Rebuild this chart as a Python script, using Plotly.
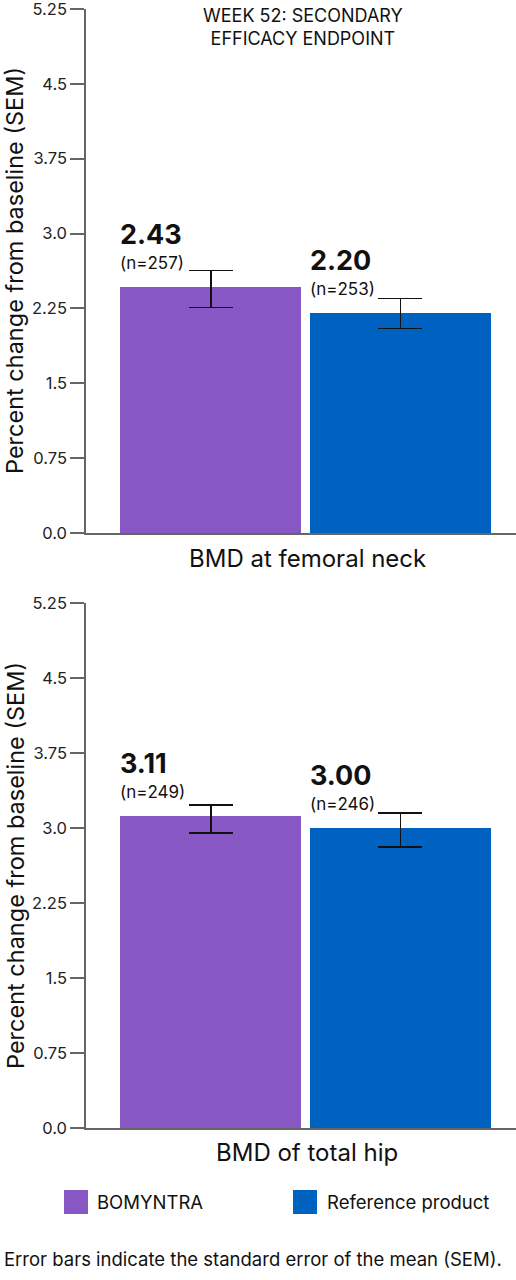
import plotly.graph_objects as go

# ---- data ----
groups = ["BOMYNTRA", "Reference product"]
colors = ["#8757C3", "#0062C0"]
panels = ["BMD at femoral neck", "BMD of total hip"]

neck_values = [2.46, 2.20]
neck_upper = [2.63, 2.35]
neck_lower = [2.26, 2.05]
neck_labels = ["2.43", "2.20"]
neck_n = [257, 253]

hip_values = [3.12, 3.00]
hip_upper = [3.23, 3.15]
hip_lower = [2.95, 2.81]
hip_labels = ["3.11", "3.00"]
hip_n = [249, 246]

tick_vals = [0, 0.75, 1.5, 2.25, 3.0, 3.75, 4.5, 5.25]
tick_text = ["0.0", "0.75", "1.5", "2.25", "3.0", "3.75", "4.5", "5.25"]

title_text = "WEEK 52: SECONDARY<br>EFFICACY ENDPOINT"
y_title = "Percent change from baseline (SEM)"
footnote = "Error bars indicate the standard error of the mean (SEM)."

# ---- layout constants ----
W, H = 516, 1280
FONT = "Inter"
TXT = "#111111"
AX = "#666666"
x_pos = [0, 1]
bar_w = 0.954
x_range = [-0.658, 1.609]

def py(px):
    return 1 - px / H

def pxx(px):
    return px / W

fig = go.Figure()

panel_data = [
    (neck_values, neck_upper, neck_lower, neck_labels, neck_n),
    (hip_values, hip_upper, hip_lower, hip_labels, hip_n),
]

annotations = []
for p, (vals, up, lo, labs, ns) in enumerate(panel_data):
    xa = "x" if p == 0 else "x2"
    ya = "y" if p == 0 else "y2"
    for i in range(2):
        fig.add_trace(go.Bar(
            x=[x_pos[i]], y=[vals[i]], width=bar_w,
            marker=dict(color=colors[i], line=dict(color=colors[i], width=0)),
            name=groups[i], showlegend=False,
            error_y=dict(type="data", symmetric=False,
                         array=[up[i] - vals[i]], arrayminus=[vals[i] - lo[i]],
                         color="#111111", thickness=1.6, width=22),
            xaxis=xa, yaxis=ya, hoverinfo="skip",
        ))
        annotations.append(dict(
            x=x_pos[i] - bar_w / 2, y=vals[i] + 0.53, xref=xa, yref=ya,
            text="<b>%s</b>" % labs[i], showarrow=False, xanchor="left", yanchor="middle",
            font=dict(family=FONT, size=27, color=TXT), xshift=-2,
        ))
        annotations.append(dict(
            x=x_pos[i] - bar_w / 2, y=vals[i] + 0.245, xref=xa, yref=ya,
            text="(n=%d)" % ns[i], showarrow=False, xanchor="left", yanchor="middle",
            font=dict(family=FONT, size=17, color=TXT), xshift=-2,
        ))

axis_common = dict(showgrid=False, zeroline=False, showline=True, linecolor=AX, linewidth=1.5,
                   automargin=False)
yaxis_common = dict(range=[0, 5.25], tickvals=tick_vals, ticktext=tick_text,
                    ticks="outside", ticklen=14, tickcolor=AX, tickwidth=1.5,
                    ticklabeloverflow="allow",
                    tickfont=dict(family=FONT, size=16.5, color="#222222"))

fig.update_layout(
    width=W, height=H, margin=dict(l=0, r=0, t=0, b=0, autoexpand=False),
    paper_bgcolor="white", plot_bgcolor="white",
    showlegend=False, bargap=0,
    font=dict(family=FONT, color=TXT),
    xaxis=dict(domain=[pxx(86), 1], range=x_range, showticklabels=False, ticks="",
               anchor="y", **axis_common),
    yaxis=dict(domain=[py(533), py(9)], anchor="x", **yaxis_common, **axis_common),
    xaxis2=dict(domain=[pxx(86), 1], range=x_range, showticklabels=False, ticks="",
                anchor="y2", **axis_common),
    yaxis2=dict(domain=[py(1128), py(603)], anchor="x2", **yaxis_common, **axis_common),
)

# title
annotations.append(dict(x=pxx(303), y=py(27), xref="paper", yref="paper", text=title_text,
                        showarrow=False, xanchor="center", yanchor="middle",
                        font=dict(family=FONT, size=18, color=TXT)))
# x axis titles
annotations.append(dict(x=pxx(307), y=py(558), xref="paper", yref="paper", text=panels[0],
                        showarrow=False, xanchor="center", yanchor="middle",
                        font=dict(family=FONT, size=24, color=TXT)))
annotations.append(dict(x=pxx(307), y=py(1152), xref="paper", yref="paper", text=panels[1],
                        showarrow=False, xanchor="center", yanchor="middle",
                        font=dict(family=FONT, size=24, color=TXT)))
# y axis titles
for cy in (271, 866):
    annotations.append(dict(x=pxx(15), y=py(cy), xref="paper", yref="paper", text=y_title,
                            showarrow=False, xanchor="center", yanchor="middle", textangle=-90,
                            font=dict(family=FONT, size=23.5, color=TXT)))
# legend
leg = [(64, 95, 0), (293, 325, 1)]
shapes = []
for sx, tx, i in leg:
    shapes.append(dict(type="rect", xref="paper", yref="paper",
                       x0=pxx(sx), x1=pxx(sx + 24), y0=py(1214), y1=py(1190),
                       fillcolor=colors[i], line=dict(width=0)))
    annotations.append(dict(x=pxx(tx), y=py(1202), xref="paper", yref="paper", text=groups[i],
                            showarrow=False, xanchor="left", yanchor="middle",
                            font=dict(family=FONT, size=18.5, color=TXT)))
# footnote
annotations.append(dict(x=pxx(2), y=py(1259), xref="paper", yref="paper", text=footnote,
                        showarrow=False, xanchor="left", yanchor="middle",
                        font=dict(family=FONT, size=18.5, color=TXT)))

fig.update_layout(annotations=annotations, shapes=shapes)
fig.write_html("out.html", config={"displayModeBar": False},
               post_script="document.body.style.margin='0';")
